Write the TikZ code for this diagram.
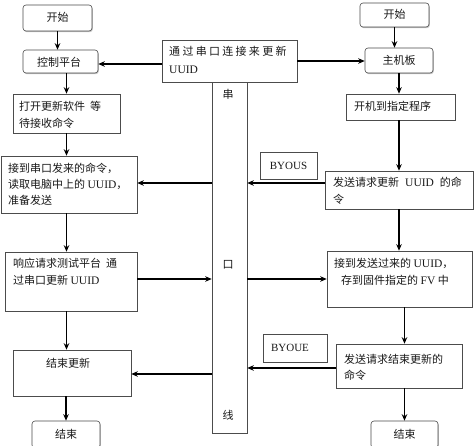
\documentclass[tikz,border=0pt]{standalone}
\usepackage{fontspec}
\setmainfont{Liberation Serif}
\newfontfamily\cjk{Noto Sans CJK SC}
\usetikzlibrary{arrows.meta,calc,shadows}
\newcommand\uuid{{\rmfamily\fontsize{11.5}{13}\selectfont UUID}}
\newcommand\lat[1]{{\rmfamily\fontsize{11.5}{13}\selectfont #1}}
\begin{document}
\begin{tikzpicture}[x=1pt,y=-1pt,
  box/.style={draw=black!70, line width=0.6pt, inner sep=0pt, fill=white},
  rbox/.style={box, rounded corners=3pt, drop shadow={shadow xshift=0.8pt, shadow yshift=-1.2pt, opacity=0.45}},
  arr/.style={-{Stealth[length=6.5pt,width=5.5pt]}, line width=1.2pt, black},
  txt/.style={inner sep=0pt, font=\fontsize{11}{13}\selectfont\cjk, anchor=base west, text=black!90},
  ctxt/.style={txt, anchor=base},
  ltxt/.style={inner sep=0pt, font=\rmfamily\fontsize{11}{13}\selectfont, anchor=base, text=black!90}]
\useasboundingbox (0,0) rectangle (474,446);
\fill[white] (0,0) rectangle (474,446);

% left column boxes
\node[rbox, minimum width=69pt, minimum height=26pt] (L1) at (57.5,18) {};
\node[rbox, minimum width=75pt, minimum height=23pt] (L2) at (60.5,61.5) {};
\node[box, minimum width=107pt, minimum height=39pt] (L3) at (66.5,113.5) {};
\node[box, minimum width=136pt, minimum height=57pt] (L4) at (69,184.5) {};
\node[box, minimum width=132pt, minimum height=59pt] (L5) at (71,281.5) {};
\node[box, minimum width=118pt, minimum height=46pt] (L6) at (72,373) {};
\node[rbox, minimum width=68pt, minimum height=27pt] (L7) at (66,434.5) {};

% centre
\node[box, minimum width=135pt, minimum height=42pt] (C) at (229.5,61) {};
\node[box, fill=none, minimum width=35pt, minimum height=351pt] (SL) at (229.5,257.5) {};

% right column boxes
\node[rbox, minimum width=69pt, minimum height=24pt] (R1) at (394.5,15) {};
\node[rbox, minimum width=68pt, minimum height=25pt] (R2) at (399,60.5) {};
\node[box, minimum width=109pt, minimum height=26pt] (R3) at (400.5,107) {};
\node[box, minimum width=148pt, minimum height=38pt] (R4) at (399,190) {};
\node[box, minimum width=145pt, minimum height=56pt] (R5) at (399.5,279) {};
\node[box, minimum width=126pt, minimum height=44pt] (R6) at (399,366) {};
\node[rbox, minimum width=67pt, minimum height=27pt] (R7) at (404.5,434.5) {};

% labels boxes
\node[box, minimum width=57pt, minimum height=27pt] (BS) at (288.5,165.5) {};
\node[box, minimum width=64pt, minimum height=28pt] (BE) at (295,348) {};

% texts
\node[ctxt] (tL1) at (57.5,22) {开始};
\node[ctxt] (tL2) at (59,67) {控制平台};
\node[txt] (tL3a) at (19,111) {打开更新软件\hspace{5pt}等};
\node[txt] (tL3b) at (19,128) {待接收命令};
\node[txt] (tL4a) at (8,173) {接到串口发来的命令，};
\node[txt] (tL4b) at (8,188.5) {读取电脑中上的 \uuid，};
\node[txt] (tL4c) at (8,205) {准备发送};
\node[txt] (tL5a) at (13,268) {响应请求测试平台\hspace{5pt}通};
\node[txt] (tL5b) at (13,285) {过串口更新 \uuid};
\node[ctxt] (tL6) at (68,367) {结束更新};
\node[ctxt] (tL7) at (66,438) {结束};

\node[txt] (tCa) at (169,56) {通\hspace{2.3pt}过\hspace{2.3pt}串\hspace{2.3pt}口\hspace{2.3pt}连\hspace{2.3pt}接\hspace{2.3pt}来\hspace{2.3pt}更\hspace{2.3pt}新};
\node[txt] (tCb) at (169,74) {\uuid};
\node[ctxt] (tS1) at (228,99) {串};
\node[ctxt] (tS2) at (228,269) {口};
\node[ctxt] (tS3) at (228,419) {线};

\node[ctxt] (tR1) at (394.5,19) {开始};
\node[ctxt] (tR2) at (399,64.5) {主机板};
\node[txt] (tR3) at (354,111) {开机到指定程序};
\node[txt] (tR4a) at (333,187) {发送请求更新\hspace{6pt}\uuid\hspace{6pt}的命};
\node[txt] (tR4b) at (333,204) {令};
\node[txt] (tR5a) at (334,268) {接到发送过来的 \uuid，};
\node[txt] (tR5b) at (341,285) {存到固件指定的 \lat{FV} 中};
\node[txt] (tR6a) at (344,363) {发送请求结束更新的};
\node[txt] (tR6b) at (344,379) {命令};
\node[ctxt] (tR7) at (404.5,438) {结束};

\node[ltxt] (tBS) at (288.5,169.5) {BYOUS};
\node[ltxt] (tBE) at (290,351.5) {BYOUE};

% vertical arrows left
\draw[arr] (L1.south) -- (L1.south |- L2.north);
\draw[arr] (L2.south -| L3.north) -- (L3.north);
\draw[arr] (L3.south) -- (L3.south |- L4.north);
\draw[arr] (L4.south -| L3.south) -- (L3.south |- L5.north);
\draw[arr] (L5.south -| L3.south) -- (L3.south |- L6.north);
\draw[arr] (L6.south -| L7.north) -- (L7.north);

% vertical arrows right
\draw[arr] (R1.south) -- (R1.south |- R2.north);
\draw[arr] (R2.south) -- (R2.south |- R3.north);
\draw[arr] (R3.south -| R2.south) -- (R2.south |- R4.north);
\draw[arr] (R4.south -| R2.south) -- (R2.south |- R5.north);
\draw[arr] (R5.south -| R7.north) -- (R7.north |- R6.north);
\draw[arr] (R6.south -| R7.north) -- (R7.north);

% centre box arrows
\draw[arr] ($(C.west)+(0,3)$) -- ($(C.west -| L2.east)+(0,3)$);
\draw[arr] (C.east) -- (C.east -| R2.west);

% serial line arrows
\draw[arr] ($(SL.west |- L4.east)+(0,-1.5)$) -- ($(L4.east)+(0,-1.5)$);
\draw[arr] ($(R4.west)+(0,-7)$) -- ($(R4.west -| SL.east)+(0,-7)$);
\draw[arr] ($(L5.east)+(0,-2.5)$) -- ($(L5.east -| SL.west)+(0,-2.5)$);
\draw[arr] (SL.east |- R5.west) -- (R5.west);
\draw[arr] ($(SL.west |- L6.east)+(0,1)$) -- ($(L6.east)+(0,1)$);
\draw[arr] ($(R6.west)+(0,2)$) -- ($(R6.west -| SL.east)+(0,2)$);
\end{tikzpicture}
\end{document}
